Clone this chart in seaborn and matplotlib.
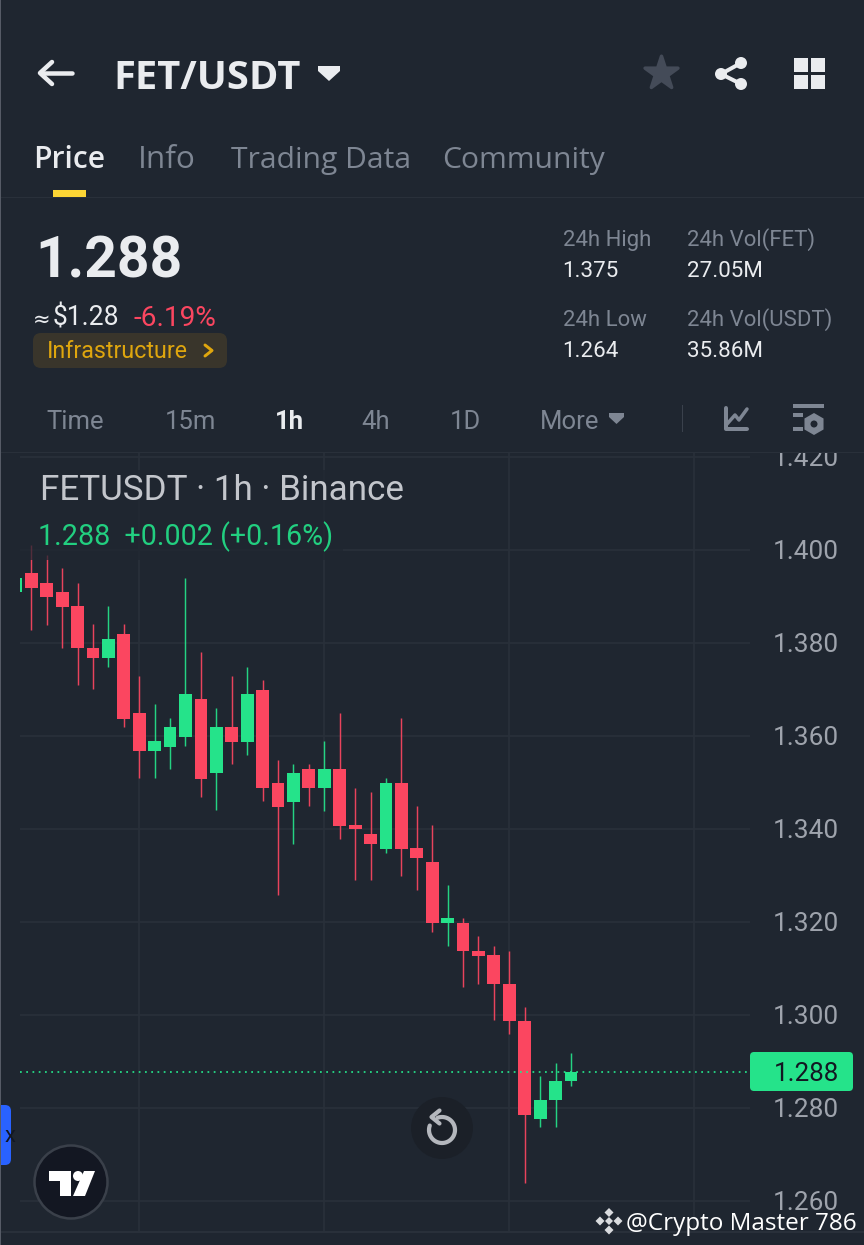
import numpy as np
import pandas as pd
import matplotlib
matplotlib.use("Agg")
import matplotlib.pyplot as plt
from matplotlib.patches import FancyBboxPatch, Rectangle, Polygon, Circle, RegularPolygon
from matplotlib.transforms import ScaledTranslation
import seaborn as sns

# ---------- data ----------
candle_index = list(range(-1, 36))
open_prices = [1.3909, 1.3950, 1.3929, 1.3910, 1.3880, 1.3790, 1.3768, 1.3819, 1.3649, 1.3568, 1.3577, 1.3598,
               1.3680, 1.3520, 1.3620, 1.3588, 1.3699, 1.3499, 1.3459, 1.3528, 1.3488, 1.3528, 1.3408, 1.3389,
               1.3357, 1.3499, 1.3359, 1.3329, 1.3197, 1.3198, 1.3138, 1.3128, 1.3067, 1.2988, 1.2776, 1.2817, 1.2857]
close_prices = [1.3939, 1.3919, 1.3899, 1.3878, 1.3789, 1.3768, 1.3809, 1.3637, 1.3568, 1.3589, 1.3620, 1.3691,
                1.3508, 1.3620, 1.3588, 1.3691, 1.3488, 1.3448, 1.3520, 1.3488, 1.3528, 1.3407, 1.3399, 1.3367,
                1.3499, 1.3357, 1.3338, 1.3197, 1.3209, 1.3137, 1.3127, 1.3067, 1.2988, 1.2786, 1.2818, 1.2858, 1.2878]
high_prices = [1.3939, 1.4011, 1.3989, 1.3961, 1.3929, 1.3840, 1.3880, 1.3840, 1.3729, 1.3669, 1.3639, 1.3940,
               1.3780, 1.3660, 1.3729, 1.3749, 1.3720, 1.3548, 1.3539, 1.3539, 1.3589, 1.3649, 1.3489, 1.3479,
               1.3509, 1.3639, 1.3449, 1.3408, 1.3280, 1.3209, 1.3169, 1.3148, 1.3138, 1.3017, 1.2868, 1.2897, 1.2918]
low_prices = [1.3909, 1.3829, 1.3839, 1.3790, 1.3710, 1.3700, 1.3749, 1.3620, 1.3510, 1.3510, 1.3529, 1.3579,
              1.3469, 1.3440, 1.3539, 1.3560, 1.3460, 1.3259, 1.3368, 1.3449, 1.3439, 1.3379, 1.3290, 1.3290,
              1.3348, 1.3298, 1.3269, 1.3178, 1.3149, 1.3060, 1.3067, 1.2989, 1.2959, 1.2638, 1.2759, 1.2759, 1.2848]
price_ticks = [1.26, 1.28, 1.30, 1.32, 1.34, 1.36, 1.38, 1.40, 1.42]
time_ticks = [7, 19, 31, 43]
last_price = 1.2878

# ---------- style ----------
BG = "#1F2630"
GRID = "#29303A"
UP = "#25E38A"
DOWN = "#FB4660"
WHITE = "#EAECEF"
GREY = "#7E8693"
W, H = 864, 1245

sns.set_theme(style="dark", rc={"axes.facecolor": BG, "figure.facecolor": BG})
fig = plt.figure(figsize=(W / 100, H / 100), dpi=100, facecolor=BG)


def px_axes(left, top, right, bottom, **kw):
    return fig.add_axes([left / W, 1 - bottom / H, (right - left) / W, (bottom - top) / H], **kw)


# ---------- chart ----------
ax = px_axes(20, 452, 750, 1232)
frame = pd.DataFrame({"t": candle_index, "open": open_prices, "close": close_prices,
                      "high": high_prices, "low": low_prices})
frame["body_low"] = frame[["open", "close"]].min(axis=1)
frame["body"] = (frame["open"] - frame["close"]).abs()
frame["rising"] = frame["close"] >= frame["open"]

for rising, colour in [(True, UP), (False, DOWN)]:
    part = frame[frame["rising"] == rising]
    ax.vlines(part["t"], part["low"], part["high"], color=colour, lw=1.05, zorder=2, alpha=0.92)
    sns.barplot(data=part, x="t", y="body", bottom=part["body_low"].to_numpy(), native_scale=True,
                color=colour, saturation=1, width=0.83, errorbar=None, ax=ax, zorder=3, linewidth=0)

ax.axhline(last_price, color=UP, lw=1.25, ls=(0, (1, 2.6)), zorder=4)
ax.set_xlim(-0.733, 46.61)
ax.set_ylim(1.4 - (1232 - 550) / 4650, 1.4 + (550 - 452) / 4650)
ax.set_xticks(time_ticks)
ax.set_xticklabels([])
ax.set_yticks(price_ticks)
ax.set_yticklabels([f"{p:.3f}" for p in price_ticks], family="Roboto", fontsize=18.9, color="#9EA3AC")
ax.yaxis.tick_right()
ax.tick_params(axis="both", length=0, pad=16.5)
for label in ax.get_yticklabels():
    label.set_transform(label.get_transform() + ScaledTranslation(0, 0.3 / 100, fig.dpi_scale_trans))
ax.set_xlabel("")
ax.set_ylabel("")
ax.grid(True, color=GRID, lw=1.2)
ax.set_axisbelow(True)
sns.despine(ax=ax, left=True, bottom=True, right=True, top=True)

# ---------- interface overlay in pixel coordinates ----------
ui = fig.add_axes([0, 0, 1, 1], zorder=5)
ui.set_xlim(0, W)
ui.set_ylim(H, 0)
ui.axis("off")
ui.patch.set_alpha(0)


def txt(x, y, s, px, color=WHITE, family="Open Sans", weight="normal", ha="left", **kw):
    ui.text(x, y, s, fontsize=px * 0.72, color=color, family=family, weight=weight, ha=ha, va="baseline", **kw)


def rect(x0, y0, x1, y1, color, z=1, alpha=None):
    ui.add_patch(Rectangle((x0, y0), x1 - x0, y1 - y0, fc=color, ec="none", zorder=z, alpha=alpha))


def line(xs, ys, color, px=2.0, z=3):
    ui.plot(xs, ys, color=color, lw=px * 0.72, solid_capstyle="round", solid_joinstyle="round", zorder=z)


# header cover, rules, legend shade
rect(0, 0, W, 452, BG)
rect(20, 470, 343, 560, BG, z=1, alpha=0.75)
rect(0, 197, W, 198.2, GRID, z=2)
rect(0, 452, W, 453.2, GRID, z=2)
rect(0, 1231.4, W, 1232.6, GRID, z=2)
rect(0, 0, 1.4, H, "#565B66", z=6)

# top bar
line([41, 72], [73, 73], WHITE, 4.5)
line([52, 40, 52], [62, 73, 84], WHITE, 4.5)
txt(113, 89, "FET/USDT", 39.9, weight="bold")
ui.add_patch(Polygon([(318, 66), (340, 66), (340, 71), (329, 81), (318, 71)], fc=WHITE, ec="none", zorder=3))
ui.scatter([661], [73], marker="*", s=620, color="#444B58", edgecolors="#444B58", linewidths=2.5, zorder=3)
line([741, 721, 741], [63, 74, 84], WHITE, 4)
for cx, cy, r in [(741, 63, 6), (721, 74, 6), (741, 84, 6)]:
    ui.add_patch(Circle((cx, cy), r, fc=WHITE, ec="none", zorder=3))
for x0 in (794, 811):
    for y0 in (58, 75):
        rect(x0, y0, x0 + 13.5, y0 + 13.5, WHITE, z=3)

# tabs
txt(33, 168, "Price", 30, weight="semibold")
txt(138, 168, "Info", 31.5, GREY)
txt(231, 168, "Trading Data", 30, GREY)
txt(442, 168, "Community", 30, GREY)
rect(53, 190, 86, 197, "#FCD535", z=3)

# price block
txt(35, 278, "1.288", 57, family="Roboto", weight="bold")
txt(33, 326, "≈", 21, family="DejaVu Sans")
txt(53, 326, "$1.28", 26.5, family="Roboto")
txt(133, 326, "-6.19%", 28, DOWN, family="Roboto")
ui.add_patch(FancyBboxPatch((39, 339), 182, 23, boxstyle="round,pad=6,rounding_size=8", fc="#39352B", ec="none", zorder=2))
txt(47, 358, "Infrastructure", 23.2, "#DFA60E", family="Roboto")
line([205, 212, 205], [345, 350.5, 356], "#DFA60E", 3)

# 24h stats
for x, y, s in [(563, 246, "24h High"), (687, 246, "24h Vol(FET)"), (563, 326, "24h Low"), (687, 326, "24h Vol(USDT)")]:
    txt(x, y, s, 22.1, GREY, family="Roboto")
for x, y, s in [(562, 277, "1.375"), (687, 277, "27.05M"), (562, 357, "1.264"), (687, 357, "35.86M")]:
    txt(x, y, s, 22.4, WHITE, family="Roboto")

# interval bar
for x, s in [(46, "Time"), (165, "15m"), (361, "4h"), (450, "1D"), (540, "More")]:
    txt(x, 429, s, 25.6, GREY, family="Roboto")
txt(275, 429, "1h", 25.6, WHITE, family="Roboto", weight="bold")
ui.add_patch(Polygon([(609, 413), (624, 413), (624, 417), (616.5, 424), (609, 417)], fc=GREY, ec="none", zorder=3))
rect(681.5, 405, 683, 432, "#3A414C", z=3)
line([726, 726, 747], [408, 429, 429], GREY, 4)
line([727, 735, 739, 747], [424, 415, 420, 409], GREY, 3.5)
rect(793, 404, 824, 407.5, GREY, z=3)
rect(793, 413, 803, 417, GREY, z=3)
rect(793, 427, 803, 431, GREY, z=3)
ui.add_patch(RegularPolygon((814, 424), 6, radius=11, fc=GREY, ec="none", zorder=3))
ui.add_patch(Circle((814, 424), 3.5, fc=BG, ec="none", zorder=3))

# chart legend
txt(40, 500, "FETUSDT · 1h · Binance", 35, "#C3C6CC", family="Roboto")
txt(38, 545, "1.288  +0.002 (+0.16%)", 28.6, "#22CF80", family="Roboto")

# last price badge
ui.add_patch(FancyBboxPatch((753, 1055), 97, 33, boxstyle="round,pad=3,rounding_size=4", fc=UP, ec="none", zorder=3))
txt(806, 1081, "1.288", 26, "#131722", family="Roboto", ha="center", zorder=4)

# left tab
ui.add_patch(FancyBboxPatch((-8, 1109), 15, 52, boxstyle="round,pad=4,rounding_size=6", fc="#2962FF", ec="none", zorder=3))
txt(5, 1142, "x", 22, "#131722", family="Roboto", zorder=4)

# TradingView badge
ui.add_patch(Circle((71, 1182), 36.5, fc="#131722", ec="#3A404A", lw=1.8, zorder=3))
ui.add_patch(Polygon([(49, 1171), (71, 1171), (71, 1196), (60, 1196), (60, 1181), (49, 1181)], fc="white", ec="none", zorder=4))
ui.add_patch(Circle((78, 1176), 5, fc="white", ec="none", zorder=4))
ui.add_patch(Polygon([(84, 1171), (95, 1171), (85, 1196), (73, 1196)], fc="white", ec="none", zorder=4))

# reset button
ui.add_patch(Circle((442, 1128), 31, fc="#1B2028", ec="none", zorder=3))
ang = np.radians(np.linspace(-110, 200, 60))
line(442 + 13 * np.cos(ang), 1130 + 13 * np.sin(ang), "#B4B7BD", 4.2, z=4)
line([439.5, 431.5, 439.5], [1110.5, 1117, 1123.5], "#B4B7BD", 4.2, z=4)

# watermark
for cx, cy in [(609, 1212.5), (600, 1221), (618, 1221), (609, 1230)]:
    ui.add_patch(Polygon([(cx, cy - 4.5), (cx + 4.5, cy), (cx, cy + 4.5), (cx - 4.5, cy)], fc="#D9DBDE", ec="none", zorder=7))
ui.add_patch(Polygon([(609, 1217), (613, 1221), (609, 1225), (605, 1221)], fc="#D9DBDE", ec="none", zorder=7))
txt(626, 1230, "@Crypto Master 786", 24.2, "white", zorder=7)

fig.savefig("out.png", dpi=100, facecolor=BG)
